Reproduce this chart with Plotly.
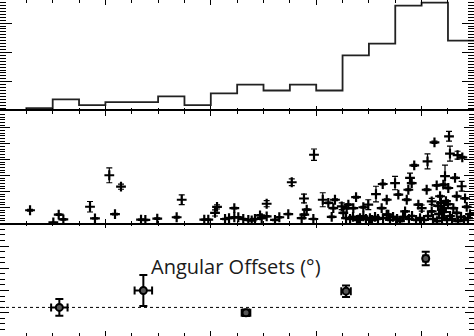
import plotly.graph_objects as go
from plotly.subplots import make_subplots

# ---------------- data ----------------
# top panel: histogram (bin left edges, counts)
BIN_WIDTH = 2.5
BIN_LEFT = [0, 2.5, 5, 7.5, 10, 12.5, 15, 17.5, 20, 22.5, 25, 27.5, 30, 32.5, 35, 37.5, 40, 42.5]
COUNTS = [0, 1, 4, 2, 3, 3, 5, 2, 6, 9, 7, 9, 7, 19, 23, 36, 37, 24]

# middle panel: scatter with vertical error bars
MID_X = [2.85, 5.06, 5.57, 6.01, 8.54, 9.01, 10.37, 10.91, 11.48, 13.38, 13.79, 14.92, 16.76, 17.24,
         19.38, 19.76, 20.40, 20.59, 21.35, 21.73, 22.23, 22.23, 22.61, 23.08, 23.56, 23.88, 24.19,
         24.67, 24.83, 25.30, 25.30, 26.09, 26.50, 27.35, 27.68, 28.62, 28.84, 28.87, 29.10, 29.79,
         29.73, 30.62, 31.15, 31.62, 31.78, 31.47, 32.42, 32.57, 32.89, 33.05, 32.83, 33.52, 33.78,
         33.99, 34.47, 34.47, 34.94, 35.10, 35.67, 36.31, 36.21, 36.69, 36.69, 37.48, 37.79, 36.84,
         38.43, 38.59, 38.74, 38.90, 39.06, 39.30, 39.69, 40.01, 40.48, 40.56, 40.96, 40.96, 41.22,
         41.43, 41.75, 42.06, 42.22, 42.60, 42.69, 42.53, 41.84, 42.31, 43.01, 43.17, 43.33, 43.33,
         43.41, 43.86, 43.80, 44.12, 44.28,
         33.21, 33.49, 33.87, 34.16, 34.72, 35.29, 35.58, 35.86, 36.34, 37.00, 37.29, 37.67, 37.95,
         38.24, 38.80, 39.09, 39.47, 39.85, 40.23, 40.61, 41.08, 41.46, 41.65, 41.94, 42.13, 42.41,
         42.69, 42.88, 43.45, 43.74, 44.02, 44.40, 44.59, 41.56, 42.13, 42.50, 41.94]
MID_Y = [0.82, 0.06, 0.54, 0.25, 1.04, 0.31, 3.02, 0.58, 2.30, 0.23, 0.21, 0.29, 0.38, 1.48,
         0.23, 0.23, 0.65, 1.03, 0.27, 0.33, 0.96, 0.38, 0.38, 0.27, 0.21, 0.19, 0.27,
         0.50, 0.33, 1.23, 0.44, 0.21, 0.38, 0.58, 2.58, 0.33, 1.56, 0.54, 0.86, 4.31,
         0.27, 1.48, 1.28, 0.96, 1.48, 0.40, 1.07, 0.65, 0.96, 1.17, 0.33, 0.96, 1.64,
         0.23, 0.44, 1.01, 1.17, 0.33, 1.84, 2.47, 0.96, 1.48, 0.54, 2.53, 1.80, 0.54,
         0.75, 1.48, 2.11, 2.85, 2.53, 3.64, 1.17, 0.96, 2.11, 3.89, 1.38, 0.75, 5.09,
         2.39, 1.70, 2.43, 2.97, 5.47, 4.38, 2.22, 1.28, 1.40, 0.96, 2.85, 1.70, 0.65,
         4.28, 4.15, 2.33, 1.57, 1.03,
         0.27, 0.40, 0.21, 0.33, 0.27, 0.21, 0.40, 0.27, 0.33, 0.21, 0.40, 0.27, 0.14,
         0.40, 0.27, 0.46, 0.21, 0.33, 0.21, 0.46, 0.27, 0.14, 0.58, 0.33, 0.71, 0.21,
         0.46, 0.27, 0.14, 0.40, 0.21, 0.33, 0.58, 1.09, 0.96, 1.21, 0.84]
MID_ERR = [0.06, 0, 0.05, 0.05, 0.33, 0.04, 0.47, 0.05, 0.16, 0.04, 0.04, 0.05, 0.05, 0.31,
           0.04, 0.04, 0.19, 0.13, 0.04, 0.04, 0.05, 0.04, 0.04, 0.04, 0.04, 0.04, 0.04,
           0.04, 0.04, 0.19, 0.04, 0.04, 0.04, 0.04, 0.21, 0.04, 0.28, 0.04, 0.05, 0.36,
           0.04, 0.44, 0.05, 0.05, 0.05, 0.05, 0.21, 0.05, 0.05, 0.05, 0.04, 0.05, 0.06,
           0.04, 0.04, 0.05, 0.31, 0.04, 0.49, 0.06, 0.05, 0.05, 0.04, 0.42, 0.05, 0.04,
           0.05, 0.05, 0.06, 0.31, 0.05, 0.07, 0.05, 0.19, 0.05, 0.47, 0.19, 0.05, 0.07,
           0.05, 0.05, 0.05, 0.69, 0.31, 0.47, 0.05, 0.05, 0.05, 0.05, 0.05, 0.05, 0.05,
           0.25, 0.06, 0.31, 0.05, 0.06,
           0.04, 0.04, 0.04, 0.04, 0.04, 0.04, 0.04, 0.04, 0.04, 0.04, 0.04, 0.04, 0.04,
           0.04, 0.04, 0.04, 0.04, 0.04, 0.04, 0.04, 0.04, 0.04, 0.04, 0.04, 0.04, 0.04,
           0.04, 0.04, 0.04, 0.04, 0.04, 0.04, 0.04, 0.05, 0.05, 0.05, 0.05]

# bottom panel: angular offsets
BOT_X = [5.63, 13.60, 23.34, 32.83, 40.39]
BOT_XERR = [0.78, 0.83, 0.41, 0.45, 0.24]
BOT_Y = [0.24, 1.00, 0.00, 0.97, 2.44]
BOT_YERR = [0.38, 0.70, 0.15, 0.26, 0.30]
REF_LEVEL = 0.24
LABEL = "Angular Offsets (°)"

X_RANGE = [0, 44.97]

# ---------------- figure ----------------
fig = make_subplots(rows=3, cols=1, shared_xaxes=True, vertical_spacing=0)

hx = BIN_LEFT + [BIN_LEFT[-1] + BIN_WIDTH]
hy = COUNTS + [COUNTS[-1]]
fig.add_trace(go.Scatter(x=hx, y=hy, mode="lines", line=dict(shape="hv", color="#222222", width=1.8),
                         showlegend=False), row=1, col=1)

fig.add_trace(go.Scatter(x=MID_X, y=MID_Y, mode="markers",
                         marker=dict(symbol="cross-thin", size=7, line=dict(width=2.2, color="black")),
                         error_y=dict(type="data", array=MID_ERR, color="black", thickness=1.2, width=3),
                         showlegend=False), row=2, col=1)

fig.add_trace(go.Scatter(x=[X_RANGE[0], X_RANGE[1]], y=[REF_LEVEL, REF_LEVEL], mode="lines",
                         line=dict(color="black", width=1, dash="dot"), showlegend=False), row=3, col=1)
fig.add_trace(go.Scatter(x=BOT_X, y=BOT_Y, mode="markers",
                         marker=dict(symbol="circle", size=7, color="#555555", line=dict(width=2, color="black")),
                         error_y=dict(type="data", array=BOT_YERR, color="black", thickness=2, width=4),
                         error_x=dict(type="data", array=BOT_XERR, color="black", thickness=2, width=4),
                         showlegend=False), row=3, col=1)

fig.add_annotation(x=0.497, y=(336 - 266) / 336, xref="paper", yref="paper", xanchor="center",
                   yanchor="middle", text=LABEL, showarrow=False,
                   font=dict(family="Open Sans", size=20, color="#1a1a1a"))

H = 336.0
top_lo = (H - 111) / H
mid_lo = (H - 223.3) / H

xcommon = dict(range=X_RANGE, tick0=0, dtick=10, ticks="inside", ticklen=5, tickwidth=1, tickcolor="black",
               showticklabels=False, showgrid=False, zeroline=False, mirror="ticks",
               minor=dict(ticks="inside", dtick=2.5, ticklen=3, tickcolor="black", showgrid=False))
fig.update_layout(
    width=474, height=336, margin=dict(l=0, r=0, t=0, b=0),
    paper_bgcolor="white", plot_bgcolor="white",
    xaxis=dict(**xcommon, showline=False),
    xaxis2=dict(**xcommon, showline=True, linecolor="black", linewidth=1.5),
    xaxis3=dict(**xcommon, showline=False),
    yaxis=dict(domain=[top_lo, 1], range=[0, 37.9], tick0=0, dtick=10, ticks="inside", ticklen=12,
               tickcolor="black", showticklabels=False, showgrid=False, zeroline=False, mirror="ticks",
               showline=False,
               minor=dict(ticks="inside", dtick=1, ticklen=6, tickcolor="black", showgrid=False)),
    yaxis2=dict(domain=[mid_lo, top_lo], range=[0, 7.06], tick0=0, dtick=1, ticks="inside", ticklen=10,
                tickcolor="black", showticklabels=False, showgrid=False, zeroline=False, mirror="ticks",
                showline=False,
                minor=dict(ticks="inside", dtick=1/6, ticklen=5, tickcolor="black", showgrid=False)),
    yaxis3=dict(domain=[0, mid_lo], range=[-1.045, 4.02], tick0=0, dtick=1, ticks="inside", ticklen=9,
                tickcolor="black", showticklabels=False, showgrid=False, zeroline=False, mirror="ticks",
                showline=False,
                minor=dict(ticks="inside", dtick=0.25, ticklen=5, tickcolor="black", showgrid=False)),
)

fig.write_html("out.html")
